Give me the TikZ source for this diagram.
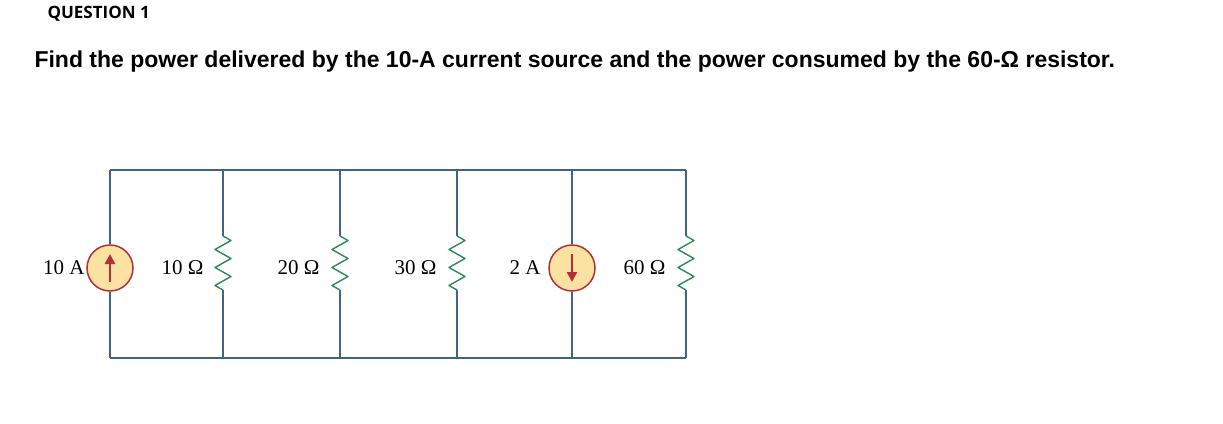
\documentclass[tikz,border=0pt]{standalone}
\usepackage{fontspec}
\setmainfont{Liberation Serif}
\newfontfamily\arialf{Liberation Sans}
\newfontfamily\openf{Open Sans}
\usetikzlibrary{arrows.meta,calc}
\definecolor{wire}{HTML}{3E6488}
\definecolor{resg}{HTML}{2E8B57}
\definecolor{srcfill}{HTML}{FCE2A2}
\definecolor{srcline}{HTML}{B0303A}
\tikzset{
  wirel/.style={draw=wire,line width=1.4pt},
  resl/.style={draw=resg,line width=1.4pt,line join=round},
  src/.style={circle,draw=srcline,fill=srcfill,line width=1.5pt,minimum size=46pt,inner sep=0pt},
  srcarrow/.style={draw=srcline,line width=2.4pt,-{Triangle[length=10pt,width=10pt]}},
  lab/.style={font=\fontsize{21}{21}\selectfont,anchor=east}
}
\begin{document}
\begin{tikzpicture}[x=1pt,y=-1pt]
\useasboundingbox (0,0) rectangle (1223,423);
\node[anchor=west,font=\openf\bfseries\fontsize{17}{17}\selectfont] (q) at (44,14) {QUESTION 1};
\node[anchor=west,font=\arialf\bfseries\fontsize{23}{23}\selectfont] (txt) at (31,62) {Find the power delivered by the 10-A current source and the power consumed by the 60-Ω resistor.};
\foreach \i/\x in {1/110,2/223,3/340,4/457,5/572,6/686}{
  \coordinate (t\i) at (\x,170);
  \coordinate (b\i) at (\x,358);
}
\draw[wirel] (t1) -- (t6);
\draw[wirel] (b1) -- (b6);
% sources
\node[src] (s1) at (110,268) {};
\node[src] (s2) at (572,268) {};
\draw[wirel] (t1) -- (s1.north); \draw[wirel] (s1.south) -- (b1);
\draw[wirel] (t5) -- (s2.north); \draw[wirel] (s2.south) -- (b5);
\draw[srcarrow] ([yshift=-14pt]s1.center) -- ([yshift=14pt]s1.center);
\draw[srcarrow] ([yshift=14pt]s2.center) -- ([yshift=-14pt]s2.center);
% resistors
\foreach \i in {2,3,4,6}{
  \coordinate (ra\i) at ($(t\i)+(0,66)$);
  \coordinate (rb\i) at ($(t\i)+(0,120)$);
  \draw[wirel] (t\i) -- (ra\i);
  \draw[wirel] (rb\i) -- (b\i);
  \draw[resl] (ra\i) -- ++(8,4.5) -- ++(-16,9) -- ++(16,9) -- ++(-16,9) -- ++(16,9) -- ++(-16,9) -- (rb\i);
}
\node[lab] (l1) at (88,268) {10 A};
\node[lab] (l2) at (207,268) {10 Ω};
\node[lab] (l3) at (323,268) {20 Ω};
\node[lab] (l4) at (440,268) {30 Ω};
\node[lab] (l5) at (544,268) {2 A};
\node[lab] (l6) at (669,268) {60 Ω};
\end{tikzpicture}
\end{document}
